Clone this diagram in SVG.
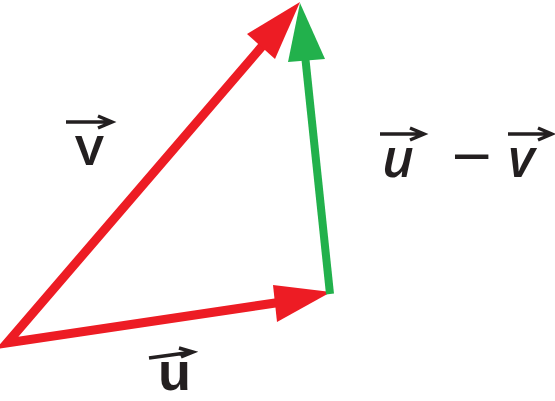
<svg xmlns="http://www.w3.org/2000/svg" width="555" height="401" viewBox="0 0 555 401">
<style>
.red{stroke:#ED1C24;stroke-width:9;fill:none}
.redf{fill:#ED1C24}
.grn{stroke:#22B14C;stroke-width:8;fill:none}
.grnf{fill:#22B14C}
.lbl{font-family:"Open Sans","Liberation Sans",sans-serif;font-size:54px;font-weight:600;fill:#231F20}
.vec{stroke:#231F20;stroke-width:3.5;fill:none;stroke-linecap:butt}
</style>
<rect width="555" height="401" fill="#fff"/>
<g id="connectors">
<polyline class="red" points="264,44 7,343 282,302" stroke-linejoin="miter"/>
<polygon class="redf" points="300,2 247,34 275,59"/>
<polygon class="redf" points="331,292 273,285 277,322"/>
<line class="grn" x1="330" y1="294" x2="305" y2="55"/>
<polygon class="grnf" points="300,3 288,62 325,59"/>
</g>
<g id="label-v">
<path class="vec" d="M66,122 H112 M98,116 L112,122 L98,128"/>
<text class="lbl" x="75" y="165">v</text>
</g>
<g id="label-u">
<path class="vec" d="M149,358 L193,352 M179,348 L193,352 L181,357"/>
<text class="lbl" x="158" y="390" font-size="50" style="font-family:'Liberation Sans',sans-serif;font-weight:700">u</text>
</g>
<g id="label-u-minus-v">
<path class="vec" d="M380,134 H424 M410,128 L424,134 L410,140 M508,134 H552 M538,128 L552,134 L538,140"/>
<text class="lbl" x="382" y="177" font-style="italic">u</text>
<text class="lbl" x="452" y="176" font-weight="400" textLength="40" lengthAdjust="spacingAndGlyphs">−</text>
<text class="lbl" x="508" y="177" font-style="italic">v</text>
</g>
</svg>
